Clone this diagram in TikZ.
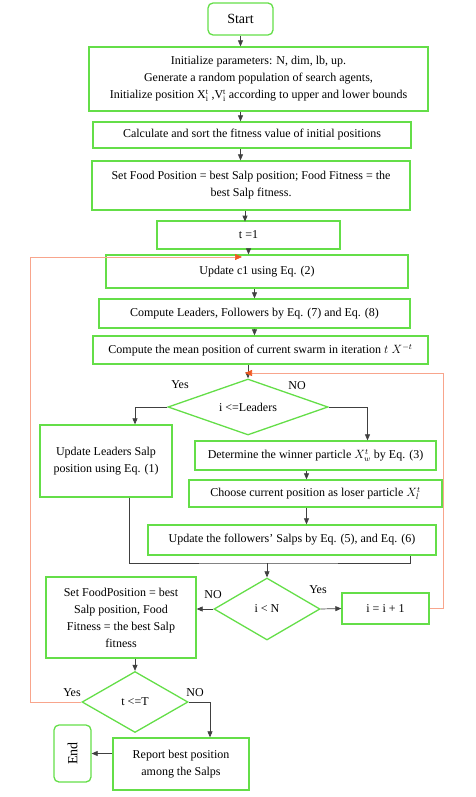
\documentclass[tikz,border=0pt]{standalone}
\usepackage{fontspec}
\setmainfont{Liberation Serif}
\usepackage{amsmath}
\usetikzlibrary{shapes.geometric,arrows.meta}
\definecolor{boxgreen}{RGB}{100,222,72}
\definecolor{loopline}{RGB}{248,165,140}
\definecolor{loophead}{RGB}{240,90,35}

\begin{document}
\begin{tikzpicture}
[
    x=1pt,y=-1pt,
    font=\fontsize{12}{17}\selectfont,
    box/.style={draw=boxgreen,line width=1.3pt,align=center,inner sep=2pt},
    decision/.style={draw=boxgreen,line width=1.3pt,shape=diamond,inner sep=0pt},
    arr/.style={-{Triangle[length=6pt,width=5pt]},black!75,line width=0.7pt},
    back/.style={-{Triangle[length=7pt,width=6pt,color=loophead]},draw=loopline,line width=0.7pt},
]
\useasboundingbox (0,0) rectangle (475,797);

% Main column
\node[box,rounded corners=5pt,font=\fontsize{14}{17}\selectfont,
    minimum width=65pt,minimum height=32pt] (start) at (240.5,19) {Start};
\node[box,minimum width=339pt,minimum height=64pt] (init) at (258.5,79)
    {Initialize parameters: N, dim, lb, up.\\
     Generate a random population of search agents,\\
     Initialize position X$^{\mathrm{t}}_{\mathrm{i}}$ ,V$^{\mathrm{t}}_{\mathrm{i}}$ according to upper and lower bounds};
\node[box,minimum width=318pt,minimum height=26pt] (calc) at (252,135)
    {Calculate and sort the fitness value of initial positions};
\node[box,minimum width=318pt,minimum height=49pt] (food) at (251,185.5)
    {Set Food Position = best Salp position; Food Fitness = the\\ best Salp fitness.};
\node[box,minimum width=183pt,minimum height=28pt] (tone) at (248.5,235) {t =1};
\node[box,minimum width=302pt,minimum height=33pt] (upd) at (257,271.5)
    {Update c1 using Eq. (2)};
\node[box,minimum width=311pt,minimum height=29pt] (lead) at (254.5,313.5)
    {Compute Leaders, Followers by Eq. (7) and Eq. (8)};
\node[box,minimum width=335pt,minimum height=28pt] (mean) at (260.5,350)
    {Compute the mean position of current swarm in iteration $t\;X^{-t}$};

% Leaders / followers
\node[decision,aspect=2.86,minimum width=160pt,minimum height=56pt] (dec1) at (248,407)
    {i <=Leaders};
\node[box,minimum width=132pt,minimum height=72pt] (updL) at (106,461)
    {Update Leaders Salp\\ position using Eq. (1)};
\node[box,minimum width=241pt,minimum height=29pt] (win) at (315.5,455.5)
    {Determine the winner particle $X^{t}_{w}$ by Eq. (3)};
\node[box,minimum width=253pt,minimum height=27pt] (lose) at (315.5,493.5)
    {Choose current position as loser particle $X^{t}_{l}$};
\node[box,minimum width=288pt,minimum height=30pt] (fol) at (292,540)
    {Update the followers' Salps by Eq. (5), and Eq. (6)};

% Loop tests
\node[decision,aspect=1.7,minimum width=106pt,minimum height=62pt] (dec2) at (267,609)
    {i < N};
\node[box,minimum width=87pt,minimum height=31pt] (inc) at (385.5,608.5) {i = i + 1};
\node[box,minimum width=150pt,minimum height=81pt] (setF) at (121,617.5)
    {Set FoodPosition = best\\ Salp position, Food\\ Fitness = the best Salp\\ fitness};
\node[decision,aspect=1.74,minimum width=106pt,minimum height=61pt] (dec3) at (135,702)
    {t <=T};
\node[box,minimum width=136pt,minimum height=52pt] (rep) at (181,764)
    {Report best position\\ among the Salps};
\node[box,rounded corners=5pt,font=\fontsize{14}{17}\selectfont,
    minimum width=37pt,minimum height=57pt] (stop) at (72.5,753.5) {\rotatebox{90}{End}};

% Labels
\node (y1) at (180,385) {Yes};
\node (n1) at (297,386) {NO};
\node (y2) at (318,590) {Yes};
\node (n2) at (213,595) {NO};
\node (y3) at (72,693) {Yes};
\node (n3) at (195,693) {NO};

% Helper points
\coordinate (lx) at (30,0);
\coordinate (rx) at (443,0);
\coordinate (jt) at (242,257);
\coordinate (jd) at (245,373);
\coordinate (merge) at (267,563);

% Arrows
\draw[arr] (start.south) -- (start.south |- init.north);
\draw[arr] (init.south -| start) -- (calc.north -| start);
\draw[arr] (calc.south -| start) -- (food.north -| start);
\draw[arr] (food.south -| upd.north) ++(-12,0) -- ++(0,11);
\draw[arr] (tone.south) -- (tone.south |- upd.north);
\draw[arr] (upd.south -| lead.north) -- (lead.north);
\draw[arr] (lead.south) -- (lead.south |- mean.north);
\draw[arr] (dec1.north |- mean.south) -- (dec1.north);
\draw[arr] (dec1.west) -| ([xshift=29pt]updL.north);
\draw[arr] (dec1.east) -| ([xshift=52pt]win.north);
\draw[arr] ([xshift=-9pt]win.south) -- ([xshift=-9pt]win.south |- lose.north);
\draw[arr] ([xshift=-9pt]lose.south) -- ([xshift=-9pt]lose.south |- fol.north);
\draw[black!75,line width=0.7pt] ([xshift=23pt]updL.south) |- (merge)
    -| ([xshift=118pt]fol.south);
\draw[arr] (merge) -- (dec2.north);
\draw[arr] (dec2.east) -- (inc.west);
\draw[arr] (dec2.west) -- (dec2.west -| setF.east);
\draw[arr] (dec3.north |- setF.south) -- (dec3.north);
\draw[arr] (dec3.east) -| ([xshift=29pt]rep.north);
\draw[arr] (rep.west |- stop) -- (stop.east);

% Back loops
\draw[back] (inc.east) -| (rx |- jd) -- (jd);
\draw[back] (dec3.west) -- (dec3.west -| lx) |- (jt);
\end{tikzpicture}
\end{document}
